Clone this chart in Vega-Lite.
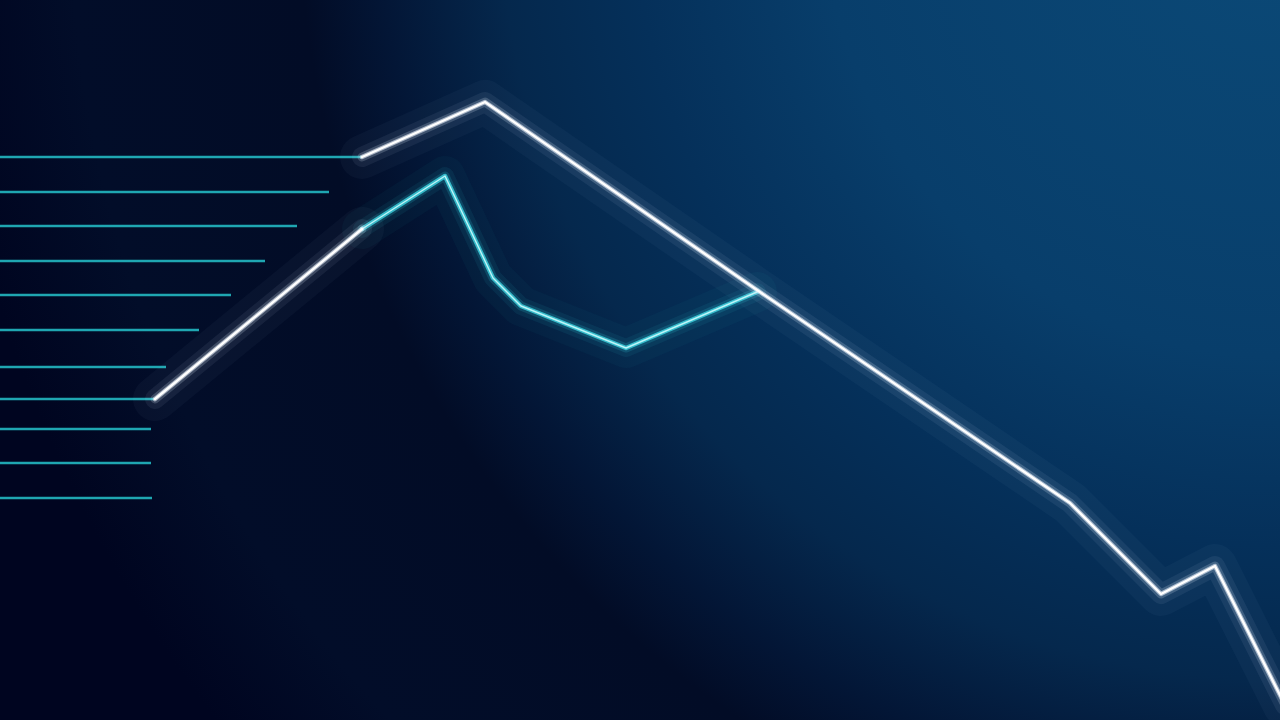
{
  "$schema": "https://vega.github.io/schema/vega-lite/v6.json",
  "width": 1280,
  "height": 720,
  "autosize": {"type": "none"},
  "padding": 0,
  "background": "#000520",
  "config": {"view": {"stroke": null}},
  "datasets": {
    "levels": [
      {"y": 157, "xstart": 0, "xend": 363},
      {"y": 192, "xstart": 0, "xend": 329},
      {"y": 226, "xstart": 0, "xend": 297},
      {"y": 261, "xstart": 0, "xend": 265},
      {"y": 295, "xstart": 0, "xend": 231},
      {"y": 330, "xstart": 0, "xend": 199},
      {"y": 367, "xstart": 0, "xend": 166},
      {"y": 399, "xstart": 0, "xend": 154},
      {"y": 429, "xstart": 0, "xend": 151},
      {"y": 463, "xstart": 0, "xend": 151},
      {"y": 498, "xstart": 0, "xend": 152}
    ],
    "white": [
      {"series": "upper", "i": 1, "x": 362, "y": 157},
      {"series": "upper", "i": 2, "x": 485, "y": 102},
      {"series": "upper", "i": 3, "x": 760, "y": 292},
      {"series": "upper", "i": 4, "x": 1070, "y": 503},
      {"series": "upper", "i": 5, "x": 1161, "y": 594},
      {"series": "upper", "i": 6, "x": 1215, "y": 566},
      {"series": "upper", "i": 7, "x": 1285, "y": 705},
      {"series": "lower", "i": 1, "x": 155, "y": 399},
      {"series": "lower", "i": 2, "x": 362, "y": 229}
    ],
    "cyan": [
      {"i": 1, "x": 362, "y": 229},
      {"i": 2, "x": 445, "y": 176},
      {"i": 3, "x": 493, "y": 278},
      {"i": 4, "x": 521, "y": 306},
      {"i": 5, "x": 626, "y": 348},
      {"i": 6, "x": 757, "y": 292}
    ],
    "frame": [{"x0": 0, "x1": 1280, "y0": 0, "y1": 720}]
  },
  "layer": [
    {
      "data": {"name": "frame"},
      "mark": {
        "type": "rect",
        "fill": {
          "gradient": "radial",
          "x1": 1, "y1": 0.1406, "r1": 0,
          "x2": 1, "y2": 0.1406, "r2": 1.05,
          "stops": [
            {"offset": 0, "color": "#0b4a78"},
            {"offset": 0.34, "color": "#083e6b"},
            {"offset": 0.48, "color": "#05305a"},
            {"offset": 0.58, "color": "#05284d"},
            {"offset": 0.67, "color": "#031636"},
            {"offset": 0.73, "color": "#020c26"},
            {"offset": 0.9, "color": "#020d29"},
            {"offset": 1, "color": "#000520"}
          ]
        }
      },
      "encoding": {
        "x": {"field": "x0", "type": "quantitative", "scale": {"domain": [0, 1280], "nice": false, "zero": false}, "axis": null},
        "x2": {"field": "x1"},
        "y": {"field": "y0", "type": "quantitative", "scale": {"domain": [0, 720], "nice": false, "zero": false, "reverse": true}, "axis": null},
        "y2": {"field": "y1"}
      }
    },
    {
      "data": {"name": "levels"},
      "mark": {"type": "rule", "stroke": "#22b4be", "strokeWidth": 2.4, "opacity": 0.92},
      "encoding": {
        "x": {"field": "xstart", "type": "quantitative"},
        "x2": {"field": "xend"},
        "y": {"field": "y", "type": "quantitative"}
      }
    },
    {
      "data": {"name": "cyan"},
      "mark": {"type": "line", "stroke": "#2ec8d8", "strokeWidth": 40, "opacity": 0.04, "strokeJoin": "round", "strokeCap": "round"},
      "encoding": {"x": {"field": "x", "type": "quantitative"}, "y": {"field": "y", "type": "quantitative"}, "order": {"field": "i"}}
    },
    {
      "data": {"name": "cyan"},
      "mark": {"type": "line", "stroke": "#2ec8d8", "strokeWidth": 18, "opacity": 0.08, "strokeJoin": "round", "strokeCap": "round"},
      "encoding": {"x": {"field": "x", "type": "quantitative"}, "y": {"field": "y", "type": "quantitative"}, "order": {"field": "i"}}
    },
    {
      "data": {"name": "cyan"},
      "mark": {"type": "line", "stroke": "#34cfdc", "strokeWidth": 9, "opacity": 0.18, "strokeJoin": "round", "strokeCap": "round"},
      "encoding": {"x": {"field": "x", "type": "quantitative"}, "y": {"field": "y", "type": "quantitative"}, "order": {"field": "i"}}
    },
    {
      "data": {"name": "cyan"},
      "mark": {"type": "line", "stroke": "#3fd6e2", "strokeWidth": 4.5, "opacity": 0.8, "strokeJoin": "round", "strokeCap": "round"},
      "encoding": {"x": {"field": "x", "type": "quantitative"}, "y": {"field": "y", "type": "quantitative"}, "order": {"field": "i"}}
    },
    {
      "data": {"name": "cyan"},
      "mark": {"type": "line", "stroke": "#c4f8fb", "strokeWidth": 1.4, "opacity": 0.95, "strokeJoin": "round", "strokeCap": "round"},
      "encoding": {"x": {"field": "x", "type": "quantitative"}, "y": {"field": "y", "type": "quantitative"}, "order": {"field": "i"}}
    },
    {
      "data": {"name": "white"},
      "mark": {"type": "line", "stroke": "#cfe4ff", "strokeWidth": 44, "opacity": 0.035, "strokeJoin": "round", "strokeCap": "round"},
      "encoding": {"x": {"field": "x", "type": "quantitative"}, "y": {"field": "y", "type": "quantitative"}, "detail": {"field": "series"}, "order": {"field": "i"}}
    },
    {
      "data": {"name": "white"},
      "mark": {"type": "line", "stroke": "#d6e8ff", "strokeWidth": 20, "opacity": 0.07, "strokeJoin": "round", "strokeCap": "round"},
      "encoding": {"x": {"field": "x", "type": "quantitative"}, "y": {"field": "y", "type": "quantitative"}, "detail": {"field": "series"}, "order": {"field": "i"}}
    },
    {
      "data": {"name": "white"},
      "mark": {"type": "line", "stroke": "#e0eeff", "strokeWidth": 9, "opacity": 0.2, "strokeJoin": "round", "strokeCap": "round"},
      "encoding": {"x": {"field": "x", "type": "quantitative"}, "y": {"field": "y", "type": "quantitative"}, "detail": {"field": "series"}, "order": {"field": "i"}}
    },
    {
      "data": {"name": "white"},
      "mark": {"type": "line", "stroke": "#eef5ff", "strokeWidth": 4.5, "opacity": 0.6, "strokeJoin": "round", "strokeCap": "round"},
      "encoding": {"x": {"field": "x", "type": "quantitative"}, "y": {"field": "y", "type": "quantitative"}, "detail": {"field": "series"}, "order": {"field": "i"}}
    },
    {
      "data": {"name": "white"},
      "mark": {"type": "line", "stroke": "#ffffff", "strokeWidth": 2.4, "opacity": 1, "strokeJoin": "round", "strokeCap": "round"},
      "encoding": {"x": {"field": "x", "type": "quantitative"}, "y": {"field": "y", "type": "quantitative"}, "detail": {"field": "series"}, "order": {"field": "i"}}
    }
  ]
}
